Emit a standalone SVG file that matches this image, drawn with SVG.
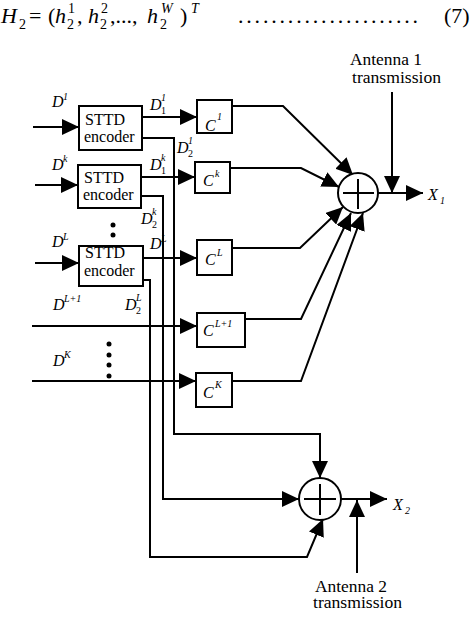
<svg xmlns="http://www.w3.org/2000/svg" width="474" height="631" viewBox="0 0 474 631">
<style>
text{font-family:"Liberation Serif","Times New Roman",serif;fill:#000}
.eq{font-size:22px}
.eqi{font-size:22px;font-style:italic}
.es{font-size:14px}
.esi{font-size:14px;font-style:italic}
.lab{font-size:16px;font-style:italic}
.sm{font-size:10px;font-style:italic}
.sd{font-size:10px}
.enc{font-size:16px}
.ant{font-size:16px}
.box{fill:#fff;stroke:#000;stroke-width:2}
.ln{fill:none;stroke:#000;stroke-width:2}
.sum{fill:#fff;stroke:#000;stroke-width:2}
.plus{stroke:#000;stroke-width:2}
</style>
<defs>
<marker id="ah" markerUnits="userSpaceOnUse" markerWidth="17" markerHeight="16" refX="17" refY="8" orient="auto">
<path d="M0,0 L17,8 L0,16 z" fill="#000"/>
</marker>
</defs>
<rect width="474" height="631" fill="#fff"/>

<g id="equation">
<text class="eqi" x="1" y="23">H</text>
<text class="es" x="19" y="29">2</text>
<text class="eq" x="29" y="23">=</text>
<text class="eq" x="48" y="23">(</text>
<text class="eqi" x="55" y="23">h</text>
<text class="es" x="67" y="29">2</text>
<text class="es" x="68" y="13">1</text>
<text class="eq" x="77" y="23">,</text>
<text class="eqi" x="88" y="23">h</text>
<text class="es" x="100" y="29">2</text>
<text class="es" x="101" y="13">2</text>
<text class="eq" x="110" y="23">,...,</text>
<text class="eqi" x="147" y="23">h</text>
<text class="es" x="160" y="29">2</text>
<text class="esi" x="161" y="13">W</text>
<text class="eq" x="180" y="23">)</text>
<text class="esi" x="191" y="13">T</text>
<text class="eq" x="238" y="23" textLength="180" lengthAdjust="spacing">......................</text>
<text class="eq" x="444" y="23">(7)</text>
</g>

<g id="connectors">
<path class="ln" d="M33,127 H79" marker-end="url(#ah)"/>
<path class="ln" d="M35,185 H78" marker-end="url(#ah)"/>
<path class="ln" d="M35,263 H79" marker-end="url(#ah)"/>
<path class="ln" d="M142,117 H197" marker-end="url(#ah)"/>
<path class="ln" d="M141,177 H195" marker-end="url(#ah)"/>
<path class="ln" d="M143,258 H197" marker-end="url(#ah)"/>
<path class="ln" d="M32,326 H197" marker-end="url(#ah)"/>
<path class="ln" d="M32,381 H196" marker-end="url(#ah)"/>
<path class="ln" d="M142,138 H174 V434 H320 V478" marker-end="url(#ah)"/>
<path class="ln" d="M141,196 H163 V499 H299" marker-end="url(#ah)"/>
<path class="ln" d="M143,280 H150 V557 H307 L323,519" marker-end="url(#ah)"/>
<path class="ln" d="M232,106 H283 L353,175" marker-end="url(#ah)"/>
<path class="ln" d="M230,168 H301 L339,187" marker-end="url(#ah)"/>
<path class="ln" d="M232,248 H300 L343,207" marker-end="url(#ah)"/>
<path class="ln" d="M245,319 H301 L351,213" marker-end="url(#ah)"/>
<path class="ln" d="M232,381 H301 L363,213" marker-end="url(#ah)"/>
<path class="ln" d="M378,193 H423" marker-end="url(#ah)"/>
<path class="ln" d="M392,92 V193" marker-end="url(#ah)"/>
<path class="ln" d="M341,499 H387" marker-end="url(#ah)"/>
<path class="ln" d="M357,573 V500" marker-end="url(#ah)"/>
</g>

<g id="enc1">
<rect class="box" x="79" y="106" width="63" height="44"/>
<text class="enc" x="85" y="125">STTD</text>
<text class="enc" x="84" y="142">encoder</text>
</g>
<g id="enc2">
<rect class="box" x="78" y="165" width="63" height="43"/>
<text class="enc" x="84" y="183">STTD</text>
<text class="enc" x="83" y="200">encoder</text>
</g>
<g id="enc3">
<rect class="box" x="79" y="246" width="64" height="40"/>
<text class="enc" x="85" y="258">STTD</text>
<text class="enc" x="84" y="276">encoder</text>
</g>

<g id="c1">
<rect class="box" x="197" y="100" width="35" height="33"/>
<text class="lab" x="205" y="131">C</text>
<text class="sm" x="217" y="120">1</text>
</g>
<g id="ck">
<rect class="box" x="195" y="162" width="35" height="31"/>
<text class="lab" x="203" y="186">C</text>
<text class="sm" x="215" y="177">k</text>
</g>
<g id="cL">
<rect class="box" x="197" y="240" width="35" height="35"/>
<text class="lab" x="205" y="265">C</text>
<text class="sm" x="217" y="256">L</text>
</g>
<g id="cL1">
<rect class="box" x="197" y="313" width="48" height="34"/>
<text class="lab" x="203" y="336">C</text>
<text class="sm" x="215" y="327">L+1</text>
</g>
<g id="cK">
<rect class="box" x="196" y="373" width="36" height="34"/>
<text class="lab" x="203" y="398">C</text>
<text class="sm" x="215" y="388">K</text>
</g>

<g id="sum1">
<circle class="sum" cx="358" cy="193" r="20"/>
<line class="plus" x1="343" y1="193" x2="374" y2="193"/>
<line class="plus" x1="358" y1="179" x2="358" y2="209"/>
</g>
<g id="sum2">
<circle class="sum" cx="320" cy="499" r="21"/>
<line class="plus" x1="304" y1="499" x2="336" y2="499"/>
<line class="plus" x1="320" y1="484" x2="320" y2="515"/>
</g>

<g id="labels">
<text class="lab" x="52" y="107">D</text><text class="sm" x="63" y="100">1</text>
<text class="lab" x="150" y="110">D</text><text class="sm" x="161" y="101">1</text><text class="sd" x="161" y="114">1</text>
<text class="lab" x="177" y="153">D</text><text class="sm" x="188" y="144">1</text><text class="sd" x="188" y="157">2</text>
<text class="lab" x="52" y="170">D</text><text class="sm" x="63" y="162">k</text>
<text class="lab" x="150" y="170">D</text><text class="sm" x="161" y="161">k</text><text class="sd" x="161" y="174">1</text>
<text class="lab" x="141" y="224">D</text><text class="sm" x="152" y="215">k</text><text class="sd" x="152" y="228">2</text>
<circle cx="113" cy="225" r="2.5"/><circle cx="113" cy="235" r="2.5"/>
<text class="lab" x="52" y="247">D</text><text class="sm" x="63" y="240">L</text>
<text class="lab" x="150" y="249">D</text><text class="sm" x="161" y="242">L</text>
<text class="lab" x="125" y="310">D</text><text class="sm" x="136" y="301">L</text><text class="sd" x="136" y="314">2</text>
<text class="lab" x="53" y="310">D</text><text class="sm" x="64" y="302">L+1</text>
<text class="lab" x="53" y="366">D</text><text class="sm" x="64" y="358">K</text>
<circle cx="109" cy="344" r="2.5"/><circle cx="109" cy="355" r="2.5"/><circle cx="109" cy="365" r="2.5"/><circle cx="109" cy="376" r="2.5"/>
<text class="lab" x="428" y="200" font-size="17">X</text><text class="sd" x="440" y="204" font-style="italic">1</text>
<text class="lab" x="393" y="510" font-size="17">X</text><text class="sd" x="405" y="514" font-style="italic">2</text>
<text class="ant" x="350" y="65" textLength="72" lengthAdjust="spacingAndGlyphs">Antenna 1</text>
<text class="ant" x="352" y="83" textLength="89" lengthAdjust="spacingAndGlyphs">transmission</text>
<text class="ant" x="315" y="592" textLength="72" lengthAdjust="spacingAndGlyphs">Antenna 2</text>
<text class="ant" x="313" y="608" textLength="89" lengthAdjust="spacingAndGlyphs">transmission</text>
</g>
</svg>
